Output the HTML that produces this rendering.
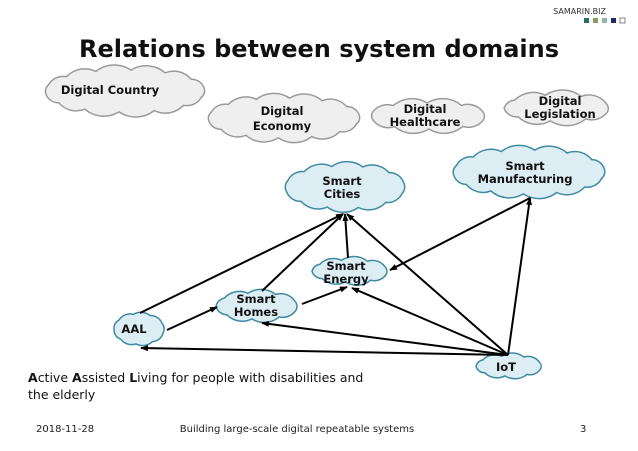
<!DOCTYPE html>
<html><head><meta charset="utf-8"><style>
html,body{margin:0;padding:0;background:#fff;width:638px;height:451px;overflow:hidden}
svg{display:block}
text{font-family:"DejaVu Sans","Liberation Sans",sans-serif}
</style></head><body>
<svg id="s" width="638" height="451" viewBox="0 0 638 451" xmlns="http://www.w3.org/2000/svg">
<defs><marker id="a" markerWidth="8" markerHeight="8" refX="7" refY="4" orient="auto" markerUnits="userSpaceOnUse"><path d="M0,1 L8,4 L0,7 z" fill="#000"/></marker></defs>
<text x="606" y="14" font-size="8" fill="#333" text-anchor="end" font-family="Liberation Sans">SAMARIN.BIZ</text>
<rect x="584" y="18" width="5" height="5" fill="#2e6b5e"/><rect x="593" y="18" width="5" height="5" fill="#8c9a5b"/><rect x="602" y="18" width="5" height="5" fill="#8fb7a8"/><rect x="611" y="18" width="5" height="5" fill="#1e2a6b"/><rect x="620" y="18" width="5" height="5" fill="#fff" stroke="#555" stroke-width="0.7"/>
<text x="319" y="57" font-size="24" font-weight="bold" text-anchor="middle" fill="#111">Relations between system domains</text>
<g id="clouds"></g>
<g stroke="#000" stroke-width="2" fill="none" marker-end="url(#a)">
<line x1="140" y1="313" x2="343" y2="214"/>
<line x1="262" y1="291" x2="343" y2="214"/>
<line x1="348" y1="258" x2="345" y2="214"/>
<line x1="508" y1="355" x2="347" y2="214"/>
<line x1="167" y1="330" x2="217" y2="307"/>
<line x1="302" y1="304" x2="347" y2="287"/>
<line x1="508" y1="355" x2="352" y2="288"/>
<line x1="508" y1="355" x2="262" y2="323"/>
<line x1="508" y1="355" x2="141" y2="348"/>
<line x1="508" y1="355" x2="530" y2="198"/>
<line x1="530" y1="198" x2="390" y2="270"/>
</g>
<g id="labels" font-size="11.5" font-weight="bold" fill="#111" text-anchor="middle">
<text x="110" y="94">Digital Country</text>
<text x="282" y="115">Digital</text><text x="282" y="130">Economy</text>
<text x="425" y="113">Digital</text><text x="425" y="126">Healthcare</text>
<text x="560" y="105">Digital</text><text x="560" y="118">Legislation</text>
<text x="342" y="185">Smart</text><text x="342" y="198">Cities</text>
<text x="525" y="170">Smart</text><text x="525" y="183">Manufacturing</text>
<text x="346" y="270">Smart</text><text x="346" y="283">Energy</text>
<text x="256" y="303">Smart</text><text x="256" y="316">Homes</text>
<text x="134" y="333">AAL</text>
<text x="506" y="371">IoT</text>
</g>
<text x="28" y="382" font-size="12.5" fill="#111" font-family="Liberation Sans"><tspan font-weight="bold">A</tspan>ctive <tspan font-weight="bold">A</tspan>ssisted <tspan font-weight="bold">L</tspan>iving for people with disabilities and</text>
<text x="28" y="399" font-size="12.5" fill="#111" font-family="Liberation Sans">the elderly</text>
<text x="36" y="432" font-size="10" fill="#222">2018-11-28</text>
<text x="297" y="432" font-size="10" fill="#222" text-anchor="middle">Building large-scale digital repeatable systems</text>
<text x="580" y="432" font-size="10" fill="#222">3</text>
</svg>
<script>
var C=[[125,91,80,21,0],[284,118,76,20,0],[428,116,58,13,0],[557,108,53,13,0],[345,187,60,21,1],[529,172,76,22,1],[350,271,38,11,1],[257,306,41,13,1],[139,329,25,15,1],[509,366,33,10,1]];
var g=document.getElementById('clouds'),h='';
C.forEach(function(c){var cx=c[0],cy=c[1],rx=c[2],ry=c[3],n=Math.max(9,Math.round((rx+ry)/7)),d='',p=[];
for(var i=0;i<n;i++){var t=2*Math.PI*i/n+0.3;p.push([cx+rx*Math.cos(t),cy+ry*Math.sin(t)]);}
d='M'+p[0][0].toFixed(1)+','+p[0][1].toFixed(1);
for(var i=1;i<=n;i++){var q=p[i%n],o=p[i-1],r=Math.hypot(q[0]-o[0],q[1]-o[1])*0.85;d+=' A'+r.toFixed(1)+','+r.toFixed(1)+' 0 0 1 '+q[0].toFixed(1)+','+q[1].toFixed(1);}
d+='Z';
h+='<path d="'+d+'" fill="'+(c[4]?'#dcedf3':'#efefef')+'" stroke="'+(c[4]?'#3f8aa3':'#9a9a9a')+'" stroke-width="1.5"/>';});
g.innerHTML=h;
</script>
</body></html>
